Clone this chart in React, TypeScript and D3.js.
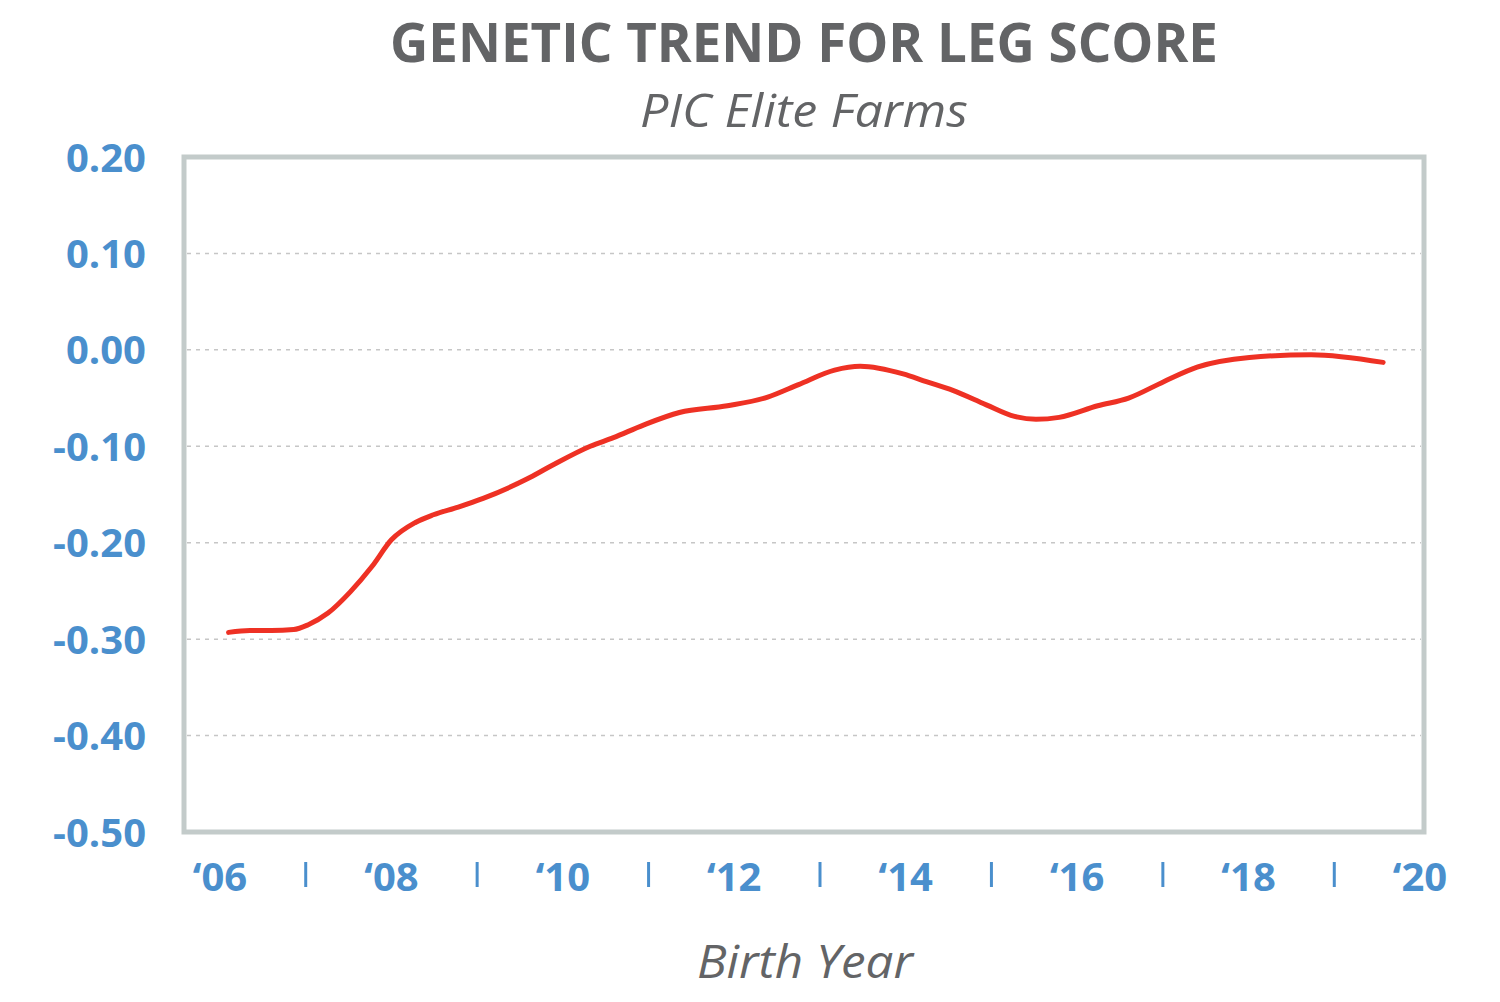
import React from "react";
import * as d3 from "d3";

const years: number[] = [2006.1, 2006.35, 2006.6, 2006.86, 2007.03, 2007.26, 2007.52, 2007.77, 2008.0, 2008.28, 2008.49, 2008.78, 2009.07, 2009.58, 2009.85, 2010.32, 2010.59, 2010.94, 2011.36, 2011.92, 2012.39, 2012.75, 2013.17, 2013.47, 2013.97, 2014.24, 2014.55, 2014.94, 2015.27, 2015.52, 2015.79, 2016.24, 2016.6, 2017.01, 2017.4, 2018.01, 2018.73, 2019.57];
const values: number[] = [-0.293, -0.291, -0.291, -0.29, -0.285, -0.273, -0.251, -0.225, -0.197, -0.179, -0.171, -0.163, -0.154, -0.134, -0.121, -0.1, -0.091, -0.078, -0.065, -0.058, -0.049, -0.036, -0.021, -0.017, -0.025, -0.033, -0.042, -0.057, -0.069, -0.072, -0.07, -0.058, -0.05, -0.033, -0.018, -0.008, -0.005, -0.013];

const yTicks: number[] = [0.2, 0.1, 0.0, -0.1, -0.2, -0.3, -0.4, -0.5];
const xLabelYears: number[] = [2006, 2008, 2010, 2012, 2014, 2016, 2018, 2020];
const xTickYears: number[] = [2007, 2009, 2011, 2013, 2015, 2017, 2019];

const title = "GENETIC TREND FOR LEG SCORE";
const subtitle = "PIC Elite Farms";
const xTitle = "Birth Year";

export default function App() {
  const W = 1500, H = 1002;
  const plotL = 184, plotR = 1424, plotT = 157, plotB = 832;
  const x = d3.scaleLinear().domain([2006, 2020]).range([220, 1420]);
  const y = d3.scaleLinear().domain([-0.5, 0.2]).range([plotB, plotT]);
  const blue = "#4a8fcd";
  const gray = "#636466";
  const font = "'Open Sans', sans-serif";

  const pts = years.map((yr, i) => [yr, values[i]] as [number, number]);
  const line = d3
    .line<[number, number]>()
    .x((d) => x(d[0]))
    .y((d) => y(d[1]))
    .curve(d3.curveMonotoneX);

  return (
    <svg width={W} height={H} style={{ position: "absolute", left: 0, top: 0, background: "#fff" }}>
      <rect x={0} y={0} width={W} height={H} fill="#fff" />
      <text x={804} y={62} textAnchor="middle" fontFamily={font} fontWeight={700} fontSize={54} fill={gray} textLength={828} lengthAdjust="spacingAndGlyphs">
        {title}
      </text>
      <text x={804} y={127} textAnchor="middle" fontFamily={font} fontStyle="italic" fontSize={46} fill={gray} textLength={328} lengthAdjust="spacingAndGlyphs">
        {subtitle}
      </text>
      {yTicks.filter((t) => t < 0.19 && t > -0.49).map((t) => (
        <line key={"g" + t} x1={plotL + 3} x2={plotR - 3} y1={y(t)} y2={y(t)} stroke="#c6c6c6" strokeWidth={1.5} strokeDasharray="4,5" />
      ))}
      <rect x={plotL} y={plotT} width={plotR - plotL} height={plotB - plotT} fill="none" stroke="#c3cbca" strokeWidth={5} />
      {yTicks.map((t) => (
        <text key={"y" + t} x={146} y={y(t) + 14.5} textAnchor="end" fontFamily={font} fontWeight={700} fontSize={40} fill={blue}>
          {d3.format(".2f")(t).replace("−", "-")}
        </text>
      ))}
      {xLabelYears.map((yr) => (
        <text key={"x" + yr} x={x(yr)} y={891} textAnchor="middle" fontFamily={font} fontWeight={700} fontSize={40} fill={blue}>
          {"\u2018" + String(yr).slice(2)}
        </text>
      ))}
      {xTickYears.map((yr) => (
        <line key={"t" + yr} x1={x(yr)} x2={x(yr)} y1={862} y2={887} stroke={blue} strokeWidth={3} />
      ))}
      <path d={line(pts) || ""} fill="none" stroke="#ee3124" strokeWidth={5} strokeLinecap="round" strokeLinejoin="round" />
      <text x={805} y={978} textAnchor="middle" fontFamily={font} fontStyle="italic" fontSize={46} fill={gray} textLength={216} lengthAdjust="spacingAndGlyphs">
        {xTitle}
      </text>
    </svg>
  );
}
